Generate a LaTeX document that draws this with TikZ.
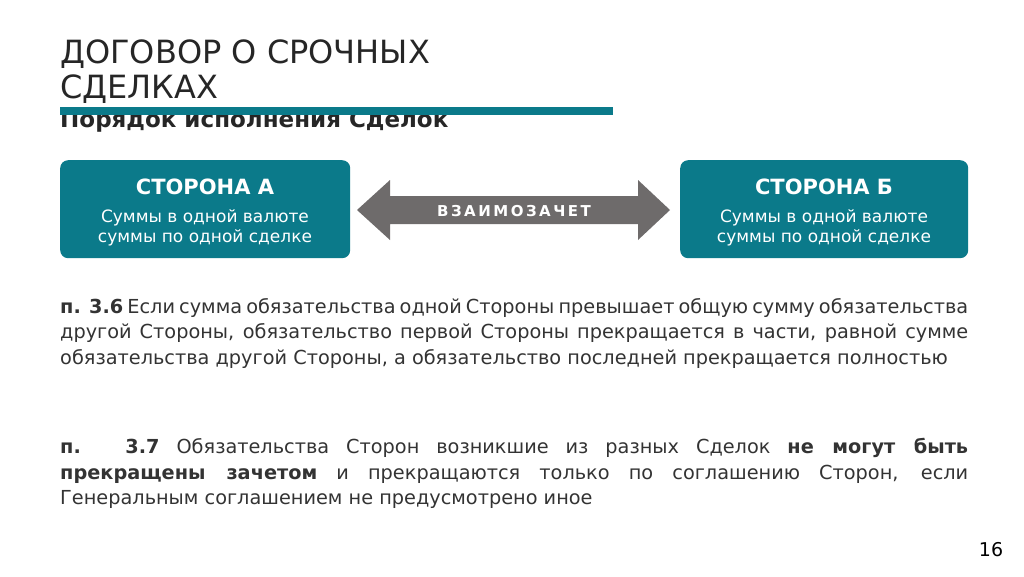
\documentclass[tikz,border=0pt]{standalone}
\usepackage{fontspec}
\setmainfont{DejaVu Sans}
\usetikzlibrary{shapes.arrows}
\definecolor{teal1}{HTML}{0B7A8A}
\definecolor{arrgray}{HTML}{6E6B6B}
\tikzset{
  sidebox/.style={fill=teal1, rounded corners=8pt, minimum width=290pt, minimum height=98pt, anchor=north west},
  para/.style={anchor=north west, text width=908pt, align=justify, inner sep=0pt, font=\fontsize{19.3}{25.5}\selectfont, text=black!80}
}
\begin{document}
\begin{tikzpicture}[x=1pt,y=-1pt]
  \useasboundingbox (0,0) rectangle (1024,576);

  % title
  \node[anchor=north west, inner sep=0pt, align=left, font=\fontsize{32}{35}\selectfont, text=black!85] (title) at (60,40) {ДОГОВОР О СРОЧНЫХ\\СДЕЛКАХ};
  \node[anchor=north west, inner sep=0pt, font=\bfseries\fontsize{23}{26}\selectfont, text=black!85] (subtitle) at (60,110) {Порядок исполнения Сделок};
  \fill[teal1] (60,107) rectangle (613,115);

  % two sides
  \node[sidebox] (boxA) at (60,160) {};
  \node[sidebox, minimum width=288pt] (boxB) at (680,160) {};
  \node[text=white, font=\bfseries\fontsize{21}{23}\selectfont] at (205,187) {СТОРОНА А};
  \node[text=white, align=center, font=\fontsize{17}{19.5}\selectfont] at (205,228) {Суммы в одной валюте\\суммы по одной сделке};
  \node[text=white, font=\bfseries\fontsize{21}{23}\selectfont] at (824,187) {СТОРОНА Б};
  \node[text=white, align=center, font=\fontsize{17}{19.5}\selectfont] at (824,228) {Суммы в одной валюте\\суммы по одной сделке};

  % arrow between
  \fill[arrgray] (357,210) -- (390,180) -- (390,196) -- (638,196) -- (638,180) -- (670,210)
    -- (638,240) -- (638,224) -- (390,224) -- (390,240) -- cycle;
  \node[text=white, font=\bfseries\fontsize{15}{17}\selectfont] (mid) at (514,211) {В\,З\,А\,И\,М\,О\,З\,А\,Ч\,Е\,Т};

  % clauses
  \node[para] (p1) at (60,298) {\textbf{п. 3.6} Если сумма обязательства одной Стороны превышает общую сумму обязательства другой Стороны, обязательство первой Стороны прекращается в части, равной сумме обязательства другой Стороны, а обязательство последней прекращается полностью};
  \node[para] (p2) at (60,438) {\textbf{п. 3.7} Обязательства Сторон возникшие из разных Сделок \textbf{не могут быть прекращены зачетом} и прекращаются только по соглашению Сторон, если Генеральным соглашением не предусмотрено иное};

  \node[font=\fontsize{19}{21}\selectfont] (page) at (991,550) {16};
\end{tikzpicture}
\end{document}
